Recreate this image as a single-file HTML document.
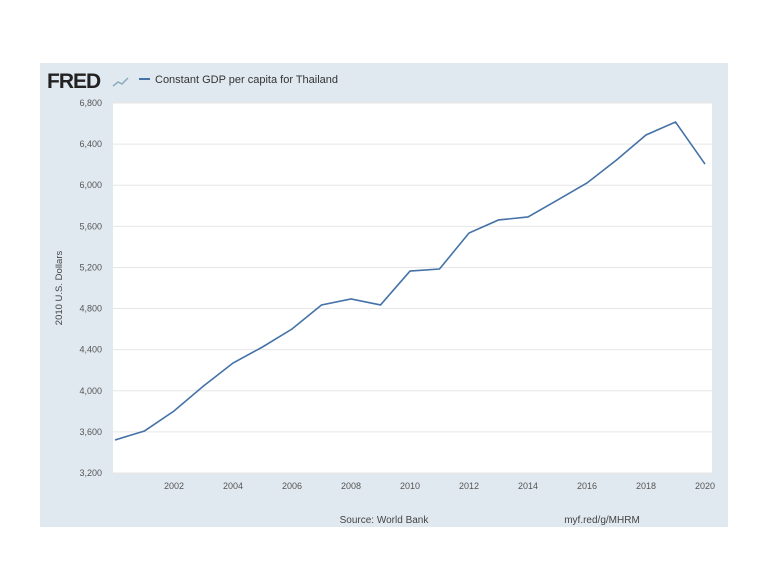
<!DOCTYPE html>
<html><head><meta charset="utf-8"><style>
body{margin:0;background:#fff;width:768px;height:576px;overflow:hidden;font-family:"Liberation Sans",sans-serif}
</style></head><body>
<svg width="768" height="576">
<rect x="40" y="63" width="688" height="464" fill="#e1e9f0"/>
<rect x="113" y="103" width="599" height="370" fill="#fff"/>
<text x="47" y="88" font-size="21" font-weight="bold" fill="#222" letter-spacing="-1">FRED</text>
<path d="M113 86 l5 -4 l4 2 l6 -6" stroke="#8ab" stroke-width="1.5" fill="none"/>
<line x1="139" y1="79" x2="150" y2="79" stroke="#4572a7" stroke-width="2"/>
<text x="155" y="83" font-size="11" fill="#333">Constant GDP per capita for Thailand</text>
<g id="grid"></g><g id="yt" font-size="9" fill="#555" text-anchor="end"></g><g id="xt" font-size="9" fill="#555" text-anchor="middle"></g>
<text transform="translate(62,288) rotate(-90)" font-size="9.5" fill="#444" text-anchor="middle">2010 U.S. Dollars</text>
<path id="line" fill="none" stroke="#4572a7" stroke-width="1.6"/>
<text x="384" y="523" font-size="10" fill="#444" text-anchor="middle">Source: World Bank</text>
<text x="602" y="523" font-size="10" fill="#444" text-anchor="middle">myf.red/g/MHRM</text>
</svg>
<script>
const years=[2000,2001,2002,2003,2004,2005,2006,2007,2008,2009,2010,2011,2012,2013,2014,2015,2016,2017,2018,2019,2020];
const values=[3521,3609,3803,4046,4270,4426,4601,4835,4893,4835,5165,5185,5535,5662,5691,5856,6022,6245,6489,6615,6206];
const yTicks=[3200,3600,4000,4400,4800,5200,5600,6000,6400,6800];
const xTicks=[2002,2004,2006,2008,2010,2012,2014,2016,2018,2020];
const NS="http://www.w3.org/2000/svg";
const x=v=>115+(v-2000)*29.5;
const y=v=>473-(v-3200)*370/3600;
const g=document.getElementById('grid'),yt=document.getElementById('yt'),xt=document.getElementById('xt');
yTicks.forEach(t=>{
 const l=document.createElementNS(NS,'line');
 l.setAttribute('x1',113);l.setAttribute('x2',712);l.setAttribute('y1',y(t));l.setAttribute('y2',y(t));
 l.setAttribute('stroke','#e6e6e6');
 
 
 g.appendChild(l);
 const s=document.createElementNS(NS,'text');
 s.setAttribute('x',102);s.setAttribute('y',y(t)+3);
 s.textContent=t.toLocaleString('en-US');
 
 
 yt.appendChild(s);
});
xTicks.forEach(t=>{
 const s=document.createElementNS(NS,'text');
 s.setAttribute('x',x(t));s.setAttribute('y',489);
 s.textContent=t;
 
 
 xt.appendChild(s);
});
document.getElementById('line').setAttribute('d',years.map((yr,i)=>(i?'L':'M')+x(yr)+' '+y(values[i])).join(' '));
</script>
</body></html>
